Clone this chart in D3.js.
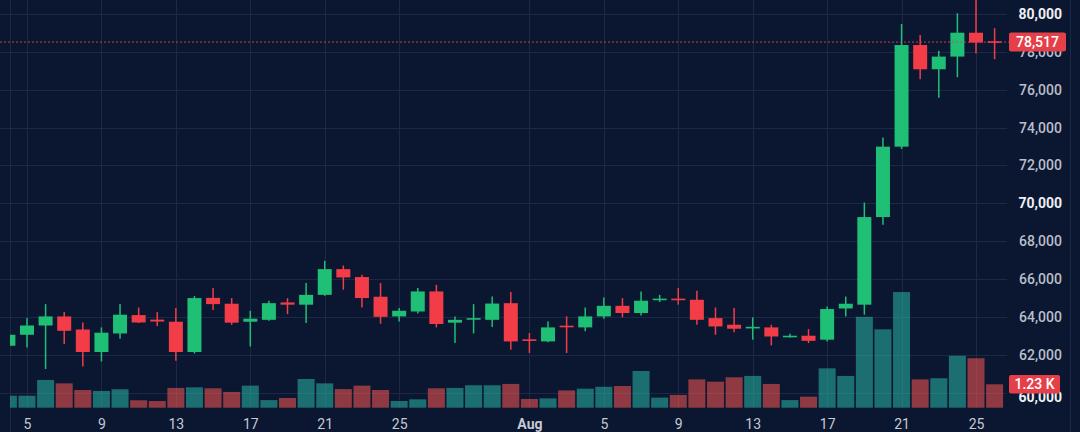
<!DOCTYPE html>
<html>
<head>
<meta charset="utf-8">
<script src="https://cdn.jsdelivr.net/npm/d3@7"></script>
<style>
  html, body { margin: 0; padding: 0; background: #0b1631; }
  svg { display: block; }
</style>
</head>
<body>
<div id="chart"></div>
<script>
// daily candles, 4 Jul - 26 Aug
var dates = ["2024-07-04","2024-07-05","2024-07-06","2024-07-07","2024-07-08","2024-07-09","2024-07-10","2024-07-11","2024-07-12","2024-07-13",
             "2024-07-14","2024-07-15","2024-07-16","2024-07-17","2024-07-18","2024-07-19","2024-07-20","2024-07-21","2024-07-22","2024-07-23",
             "2024-07-24","2024-07-25","2024-07-26","2024-07-27","2024-07-28","2024-07-29","2024-07-30","2024-07-31","2024-08-01","2024-08-02",
             "2024-08-03","2024-08-04","2024-08-05","2024-08-06","2024-08-07","2024-08-08","2024-08-09","2024-08-10","2024-08-11","2024-08-12",
             "2024-08-13","2024-08-14","2024-08-15","2024-08-16","2024-08-17","2024-08-18","2024-08-19","2024-08-20","2024-08-21","2024-08-22",
             "2024-08-23","2024-08-24","2024-08-25","2024-08-26"];
var opens  = [62470,63050,63540,64020,63330,62140,63120,64090,63850,63740,
              62140,65000,64690,63740,63840,64760,64640,65160,66520,66100,
              65060,64020,64280,65340,63690,63870,63840,64720,62810,62700,
              63530,63440,64020,64580,64200,64900,64960,64900,63930,63580,
              63400,63440,62950,63000,62790,64440,64640,69270,72990,78360,
              77080,77750,79010,78560];
var highs  = [63100,63930,64670,64250,63700,63440,64670,64490,64250,64460,
              65100,65520,64990,64320,64850,64990,65780,66960,66710,66220,
              65780,64460,65520,65690,64020,64670,65070,65310,63140,63750,
              64020,64490,65020,64990,65340,65160,65520,65380,64490,64460,
              63970,63580,63100,63350,64550,65070,70040,73470,79470,78890,
              78060,80040,81000,79250];
var lows   = [62400,62380,61240,62560,61380,61640,62840,63670,63510,61680,
              62060,64360,63580,62430,63790,64140,63670,65110,65430,64490,
              63630,63750,64180,63440,62610,63120,63460,62260,62090,62660,
              62090,63230,63900,63970,64070,64780,64640,63580,63050,63190,
              62790,62490,62900,62610,62700,64020,64110,68860,72870,76550,
              75580,76660,77930,77610];
var closes = [63050,63540,64020,63260,62140,63160,64110,63700,63750,62140,
              64990,64670,63690,63900,64720,64640,65160,66520,66080,64990,
              64000,64320,65340,63620,63840,63930,64700,62700,62730,63440,
              63460,64020,64580,64200,64850,64960,64880,63840,63490,63370,
              63470,62960,63000,62730,64410,64690,69270,72990,78360,77080,
              77750,79010,78490,78517];
// volume in thousands
var volumes = [0.63,0.63,1.46,1.28,0.93,0.88,0.97,0.39,0.35,1.04,
               1.07,1.02,0.83,1.16,0.40,0.51,1.51,1.28,0.98,1.16,
               0.93,0.35,0.44,1.02,1.04,1.18,1.18,1.25,0.46,0.49,
               0.91,1.00,1.10,1.14,1.93,0.53,0.67,1.49,1.37,1.60,
               1.67,1.25,0.40,0.58,2.07,1.67,4.78,4.12,6.08,1.49,
               1.55,2.73,2.60,1.23];

var priceTicks = [60000,62000,64000,66000,68000,70000,72000,74000,76000,78000,80000];
var timeTicks = ["2024-07-05","2024-07-09","2024-07-13","2024-07-17","2024-07-21","2024-07-25",
                 "2024-08-01","2024-08-05","2024-08-09","2024-08-13","2024-08-17","2024-08-21","2024-08-25"];
var lastPrice = 78517;
var lastVolumeLabel = "1.23 K";

var w = 1080, h = 432;
var plotLeft = 10, plotRight = 1007;
var volBase = 407.7;

var bg = "#0b1631";
var grid = "#1d2944";
var upColor = "#1fbf75";
var downColor = "#f23d48";
var upVol = "rgba(38,166,154,0.62)";
var downVol = "rgba(239,83,80,0.58)";
var labelRed = "#e5404a";

var parse = d3.utcParse("%Y-%m-%d");

var data = dates.map(function(d, i) {
  return {date: parse(d), o: opens[i], h: highs[i], l: lows[i], c: closes[i], v: volumes[i]};
});

var xScale = d3.scaleUtc()
  .domain([parse("2024-07-05"), parse("2024-08-25")])
  .range([27, 976]);

var yScale = d3.scaleLinear()
  .domain([60000, 80000])
  .range([392.5, 14]);

var vScale = d3.scaleLinear()
  .domain([0, 10])
  .range([volBase, volBase - 190.2]);

var dayW = xScale(parse("2024-07-06")) - xScale(parse("2024-07-05"));
var bodyW = 14;
var volW = dayW - 1.6;

var svg = d3.select("#chart")
  .append("svg")
  .attr("width", w)
  .attr("height", h)
  .style("font-family", "Roboto, 'Noto Sans', sans-serif");

svg.append("rect")
  .attr("width", w)
  .attr("height", h)
  .attr("fill", bg);

svg.append("defs").append("clipPath")
  .attr("id", "plotClip")
  .append("rect")
  .attr("x", plotLeft)
  .attr("y", 0)
  .attr("width", plotRight - plotLeft)
  .attr("height", h);

// grid lines
svg.append("g").selectAll("line")
  .data(priceTicks)
  .enter()
  .append("line")
  .attr("x1", 0)
  .attr("x2", plotRight)
  .attr("y1", function(d) { return Math.round(yScale(d)) + 0.5; })
  .attr("y2", function(d) { return Math.round(yScale(d)) + 0.5; })
  .attr("stroke", grid)
  .attr("stroke-width", 1);

svg.append("g").selectAll("line")
  .data(timeTicks)
  .enter()
  .append("line")
  .attr("x1", function(d) { return Math.round(xScale(parse(d))) + 0.5; })
  .attr("x2", function(d) { return Math.round(xScale(parse(d))) + 0.5; })
  .attr("y1", 0)
  .attr("y2", volBase)
  .attr("stroke", grid)
  .attr("stroke-width", 1);

// edge lines
svg.append("line")
  .attr("x1", plotLeft + 0.5).attr("x2", plotLeft + 0.5)
  .attr("y1", 0).attr("y2", h)
  .attr("stroke", grid);
svg.append("line")
  .attr("x1", 1070.5).attr("x2", 1070.5)
  .attr("y1", 0).attr("y2", h)
  .attr("stroke", grid);

var plot = svg.append("g").attr("clip-path", "url(#plotClip)");

// volume bars
plot.append("g").selectAll("rect")
  .data(data)
  .enter()
  .append("rect")
  .attr("x", function(d) { return xScale(d.date) - volW / 2; })
  .attr("y", function(d) { return vScale(d.v); })
  .attr("width", volW)
  .attr("height", function(d) { return volBase - vScale(d.v); })
  .attr("fill", function(d) { return d.c >= d.o ? upVol : downVol; });

// candles
var candles = plot.append("g").selectAll("g")
  .data(data)
  .enter()
  .append("g");

candles.append("line")
  .attr("x1", function(d) { return xScale(d.date); })
  .attr("x2", function(d) { return xScale(d.date); })
  .attr("y1", function(d) { return yScale(d.h); })
  .attr("y2", function(d) { return yScale(d.l); })
  .attr("stroke", function(d) { return d.c >= d.o ? upColor : downColor; })
  .attr("stroke-width", 1.5);

candles.append("rect")
  .attr("x", function(d) { return xScale(d.date) - bodyW / 2; })
  .attr("y", function(d) { return yScale(Math.max(d.o, d.c)); })
  .attr("width", bodyW)
  .attr("height", function(d) {
    return Math.max(1.6, Math.abs(yScale(d.o) - yScale(d.c)));
  })
  .attr("fill", function(d) { return d.c >= d.o ? upColor : downColor; });

// last price line
svg.append("line")
  .attr("x1", 0)
  .attr("x2", 1009)
  .attr("y1", yScale(lastPrice))
  .attr("y2", yScale(lastPrice))
  .attr("stroke", labelRed)
  .attr("stroke-width", 1)
  .attr("stroke-dasharray", "2,2")
  .attr("opacity", 0.9);

// price axis
var yAxis = d3.axisLeft(yScale)
  .tickValues(priceTicks)
  .tickSize(0)
  .tickPadding(0)
  .tickFormat(d3.format(","));

var yAxisG = svg.append("g")
  .attr("transform", "translate(1062,0)")
  .call(yAxis);
yAxisG.select(".domain").remove();
yAxisG.selectAll("text")
  .attr("font-size", 14)
  .attr("font-family", "Roboto, 'Noto Sans', sans-serif")
  .attr("font-weight", function(d) { return d % 10000 === 0 ? 700 : 500; })
  .attr("fill", function(d) { return d % 10000 === 0 ? "#eef0f4" : "#b9bfca"; });
// bottom label sits a bit lower
yAxisG.selectAll(".tick")
  .filter(function(d) { return d === 60000; })
  .select("text")
  .attr("y", 5);

// time axis
var xAxis = d3.axisBottom(xScale)
  .tickValues(timeTicks.map(parse))
  .tickSize(0)
  .tickPadding(0)
  .tickFormat(function(d) {
    return d.getUTCDate() === 1 ? d3.utcFormat("%b")(d) : d.getUTCDate();
  });

var xAxisG = svg.append("g")
  .attr("transform", "translate(0,419)")
  .call(xAxis);
xAxisG.select(".domain").remove();
xAxisG.selectAll("text")
  .attr("font-size", 14)
  .attr("font-family", "Roboto, 'Noto Sans', sans-serif")
  .attr("font-weight", function(d) { return d.getUTCDate() === 1 ? 700 : 400; })
  .attr("fill", "#c6cad3");

// last price label
var py = yScale(lastPrice);
svg.append("rect")
  .attr("x", 1009)
  .attr("y", py - 9.5)
  .attr("width", 57)
  .attr("height", 19)
  .attr("rx", 2)
  .attr("fill", labelRed);
svg.append("text")
  .attr("x", 1037.5)
  .attr("y", py)
  .attr("dy", "0.36em")
  .attr("text-anchor", "middle")
  .attr("font-size", 14)
  .attr("font-weight", 500)
  .attr("fill", "#ffffff")
  .text(d3.format(",")(lastPrice));

// last volume label
var vy = vScale(volumes[volumes.length - 1]);
svg.append("rect")
  .attr("x", 1009)
  .attr("y", vy - 9.3)
  .attr("width", 51)
  .attr("height", 18.6)
  .attr("rx", 2)
  .attr("fill", labelRed);
svg.append("text")
  .attr("x", 1034.5)
  .attr("y", vy)
  .attr("dy", "0.36em")
  .attr("text-anchor", "middle")
  .attr("font-size", 14)
  .attr("font-weight", 500)
  .attr("fill", "#ffffff")
  .text(lastVolumeLabel);
</script>
</body>
</html>
